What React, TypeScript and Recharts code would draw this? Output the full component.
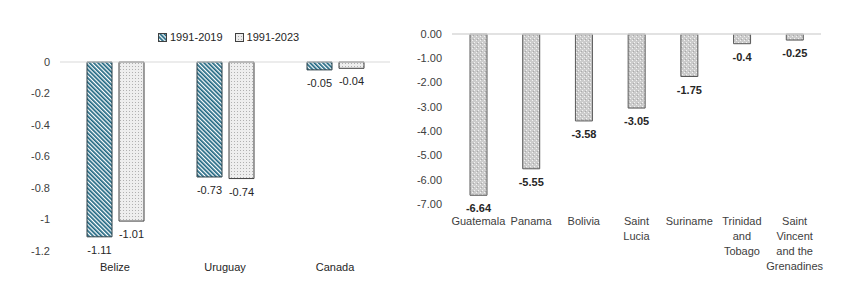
import { BarChart, Bar, XAxis, YAxis, ReferenceLine, Legend, LabelList, Text } from 'recharts';

const leftCountries = ['Belize', 'Uruguay', 'Canada'];
const change1991to2019 = [-1.11, -0.73, -0.05];
const change1991to2023 = [-1.01, -0.74, -0.04];
const leftTicks = [0, -0.2, -0.4, -0.6, -0.8, -1, -1.2];

const rightCountries = ['Guatemala', 'Panama', 'Bolivia', 'Saint Lucia', 'Suriname', 'Trinidad and Tobago', 'Saint Vincent and the Grenadines'];
const rightValues = [-6.64, -5.55, -3.58, -3.05, -1.75, -0.4, -0.25];
const rightTicks = [0, -1, -2, -3, -4, -5, -6, -7];

const leftData = leftCountries.map((c, i) => ({ country: c, a: change1991to2019[i], b: change1991to2023[i] }));
const rightData = rightCountries.map((c, i) => ({ country: c, v: rightValues[i] }));

const FONT = '"Liberation Sans", Arial, sans-serif';

// label sits just beyond the end of a negative bar
const makeLabel = (bold: boolean) => (props: any) => {
  const { x, y, width, height, value } = props;
  const end = Math.max(y, y + height);
  return (
    <text x={x + width / 2} y={end + 17} textAnchor="middle" fontSize={11} fontWeight={bold ? 700 : 400} fill="#262626" fontFamily={FONT}>
      {value}
    </text>
  );
};

const Swatch = ({ kind }: { kind: 'hatch' | 'dots' }) => (
  <svg width={9} height={9} style={{ marginRight: 3 }}>
    <defs>
      <pattern id={`lg-${kind}`} width="3" height="3" patternUnits="userSpaceOnUse" patternTransform={kind === 'hatch' ? 'rotate(-45)' : undefined}>
        <rect width="3" height="3" fill={kind === 'hatch' ? '#fff' : '#ececec'} />
        <rect width={kind === 'hatch' ? 1.7 : 1} height={kind === 'hatch' ? 3 : 1} fill={kind === 'hatch' ? '#1d6580' : '#a8a8a8'} />
      </pattern>
    </defs>
    <rect x={0.5} y={0.5} width={8} height={8} fill={`url(#lg-${kind})`} stroke="#404040" strokeWidth={1} />
  </svg>
);

const LegendContent = () => (
  <div style={{ display: 'flex', alignItems: 'center', fontFamily: FONT, fontSize: 11, color: '#262626' }}>
    <Swatch kind="hatch" />
    <span style={{ marginRight: 12 }}>1991-2019</span>
    <Swatch kind="dots" />
    <span>1991-2023</span>
  </div>
);

const WrapTick = (props: any) => {
  const { x, y, payload } = props;
  return (
    <Text x={x} y={y} width={55} textAnchor="middle" verticalAnchor="start" lineHeight={15} fontSize={11} fill="#404040" fontFamily={FONT}>
      {payload.value}
    </Text>
  );
};

export default function App() {
  return (
    <div style={{ position: 'absolute', left: 0, top: 0, width: 866, height: 301, background: '#fff' }}>
      <div style={{ position: 'absolute', left: 0, top: 0 }}>
        <BarChart width={400} height={290} data={leftData} margin={{ top: 62, right: 10, bottom: 9, left: 0 }} barSize={25} barGap={7}>
          <defs>
            <pattern id="hatch" width="3" height="3" patternUnits="userSpaceOnUse" patternTransform="rotate(-45)">
              <rect width="3" height="3" fill="#ffffff" />
              <rect width="1.7" height="3" fill="#1d6580" />
            </pattern>
            <pattern id="dotsLight" width="3" height="3" patternUnits="userSpaceOnUse">
              <rect width="3" height="3" fill="#eeeeee" />
              <rect width="1" height="1" fill="#b0b0b0" />
            </pattern>
          </defs>
          <XAxis dataKey="country" axisLine={false} tickLine={false} tickMargin={6} tick={{ fontSize: 11, fill: '#262626', fontFamily: FONT }} />
          <YAxis width={60} domain={[-1.2, 0]} ticks={leftTicks} axisLine={false} tickLine={false} tickMargin={4} tick={{ fontSize: 11, fill: '#404040', fontFamily: FONT }} />
          <ReferenceLine y={0} stroke="#d9d9d9" strokeWidth={1} />
          <Legend verticalAlign="middle" align="center" layout="horizontal" content={<LegendContent />} wrapperStyle={{ top: 31, left: 158, width: 'auto', height: 'auto' }} />
          <Bar dataKey="a" name="1991-2019" fill="url(#hatch)" stroke="#2b3f47" strokeWidth={1} isAnimationActive={false}>
            <LabelList dataKey="a" content={makeLabel(false)} />
          </Bar>
          <Bar dataKey="b" name="1991-2023" fill="url(#dotsLight)" stroke="#404040" strokeWidth={1} isAnimationActive={false}>
            <LabelList dataKey="b" content={makeLabel(false)} />
          </Bar>
        </BarChart>
      </div>
      <div style={{ position: 'absolute', left: 400, top: 0 }}>
        <BarChart width={466} height={290} data={rightData} margin={{ top: 34, right: 45, bottom: 6, left: 0 }} barSize={17}>
          <defs>
            <pattern id="dotsGrey" width="4" height="4" patternUnits="userSpaceOnUse">
              <rect width="4" height="4" fill="#cbcbcb" />
              <rect x="0" y="0" width="1" height="1" fill="#f2f2f2" />
              <rect x="2" y="2" width="1" height="1" fill="#f2f2f2" />
              <rect x="1" y="3" width="1" height="1" fill="#aaaaaa" />
            </pattern>
          </defs>
          <XAxis dataKey="country" axisLine={false} tickLine={false} tickMargin={7} height={80} interval={0} tick={<WrapTick />} />
          <YAxis width={52} domain={[-7, 0]} ticks={rightTicks} axisLine={false} tickLine={false} tickMargin={4} tickFormatter={(v: number) => v.toFixed(2)} tick={{ fontSize: 11, fill: '#404040', fontFamily: FONT }} />
          <ReferenceLine y={0} stroke="#d9d9d9" strokeWidth={1.5} />
          <Bar dataKey="v" fill="url(#dotsGrey)" stroke="#595959" strokeWidth={1} isAnimationActive={false}>
            <LabelList dataKey="v" content={makeLabel(true)} />
          </Bar>
        </BarChart>
      </div>
    </div>
  );
}
